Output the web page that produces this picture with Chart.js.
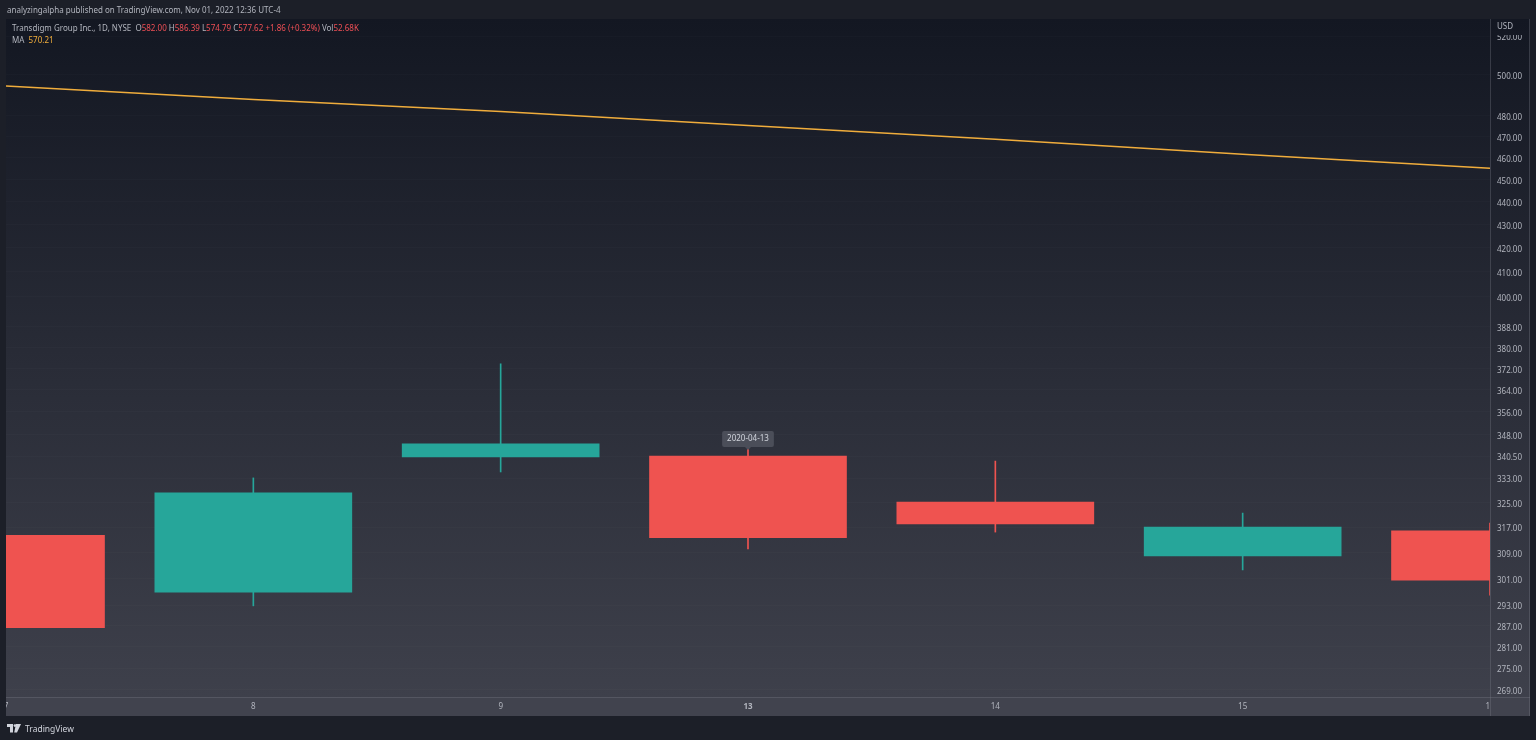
<!DOCTYPE html>
<html>
<head>
<meta charset="utf-8">
<script src="https://cdn.jsdelivr.net/npm/chart.js@4"></script>
<style>
  html, body { margin: 0; padding: 0; background: #1c1f28; overflow: hidden; }
  body { width: 1536px; height: 740px; position: relative; font-family: "Noto Sans", sans-serif; }
  #wrap { position: absolute; left: 0; top: 0; width: 1536px; height: 740px; }
  .txt { position: absolute; font-size: 8px; color: #b2b5be; white-space: nowrap; line-height: 10px; }
  .red { color: #ef4f55; }
  .ma { color: #f0ad3c; }
  .logo { position: absolute; left: 7px; top: 723px; display: flex; align-items: center; gap: 4px; color: #d1d4dc; font-size: 8.5px; }
</style>
</head>
<body>
<div id="wrap"><canvas id="chart" width="1536" height="740"></canvas></div>

<div class="txt" style="left:7px; top:5px;">analyzingalpha published on TradingView.com, Nov 01, 2022 12:36 UTC-4</div>
<div class="txt" style="left:12px; top:23px;">Transdigm Group Inc., 1D, NYSE&nbsp; O<span class="red">582.00</span> H<span class="red">586.39</span> L<span class="red">574.79</span> C<span class="red">577.62</span> <span class="red">+1.86 (+0.32%)</span> Vol<span class="red">52.68K</span></div>
<div class="txt" style="left:12px; top:35px;">MA&nbsp; <span class="ma">570.21</span></div>
<div class="logo">
  <svg width="14" height="9" viewBox="0 0 14 9"><path d="M0 0h6v8.5H3V3H0z M9 0h5L10 8.5H7.2z" fill="#d1d4dc"/><circle cx="8" cy="1.6" r="1.4" fill="#d1d4dc"/></svg>
  <span>TradingView</span>
</div>

<script>
// April 2020 daily candles, Transdigm (TDG)
const dayLabels = ['7', '8', '9', '13', '14', '15', '16'];
const openValues = [314.4, 296.9, 340.2, 340.5, 325.1, 307.9, 315.8];
const closeValues = [286.4, 328.1, 344.7, 313.6, 318.0, 317.0, 300.5];
const highValues = [314.4, 333.1, 373.7, 343.3, 338.8, 321.5, 318.3];
const lowValues = [286.4, 292.8, 335.1, 310.1, 315.4, 303.6, 296.0];
const maValues = [494.5, 487.8, 481.9, 475.2, 468.6, 461.6, 455.1];
const priceTicks = [269, 275, 281, 287, 293, 301, 309, 317, 325, 333, 340.5, 348, 356, 364, 372, 380, 388,
  400, 410, 420, 430, 440, 450, 460, 470, 480, 500, 520];
const hoverDate = '2020-04-13';

const UP = '#26a69a';
const DOWN = '#ef5350';
const candleColors = openValues.map((o, i) => (closeValues[i] >= o ? UP : DOWN));

const frame = {
  id: 'frame',
  beforeDraw(chart) {
    const { ctx, chartArea, scales } = chart;
    const right = scales.y.right;
    const g = ctx.createLinearGradient(0, chartArea.top, 0, chartArea.bottom);
    g.addColorStop(0, '#131722');
    g.addColorStop(1, '#3e404b');
    ctx.save();
    ctx.fillStyle = g;
    ctx.fillRect(chartArea.left, chartArea.top, right - chartArea.left, chartArea.bottom - chartArea.top);
    ctx.fillStyle = '#41434e';
    ctx.fillRect(chartArea.left, chartArea.bottom, right - chartArea.left, scales.x.bottom - chartArea.bottom);
    ctx.restore();
  },
  afterDraw(chart) {
    const { ctx, chartArea, scales } = chart;
    const x = scales.x, y = scales.y;
    ctx.save();
    // borders
    ctx.strokeStyle = 'rgba(120,123,134,0.35)';
    ctx.lineWidth = 1;
    ctx.beginPath();
    ctx.moveTo(chartArea.right + 0.5, chartArea.top);
    ctx.lineTo(chartArea.right + 0.5, x.bottom);
    ctx.moveTo(chartArea.left, chartArea.bottom + 0.5);
    ctx.lineTo(y.right, chartArea.bottom + 0.5);
    ctx.moveTo(y.right - 0.5, chartArea.top);
    ctx.lineTo(y.right - 0.5, x.bottom);
    ctx.stroke();

    // time labels, clipped to the pane
    ctx.beginPath();
    ctx.rect(chartArea.left, chartArea.bottom, chartArea.right - chartArea.left, x.bottom - chartArea.bottom);
    ctx.clip();
    ctx.fillStyle = '#b2b5be';
    ctx.textAlign = 'center';
    ctx.textBaseline = 'middle';
    dayLabels.forEach((d, i) => {
      ctx.font = (d === '13' ? 'bold ' : '') + '8px "Noto Sans"';
      ctx.fillText(d, x.getPixelForValue(i), (chartArea.bottom + x.bottom) / 2);
    });
    ctx.restore();

    // currency label at top of price axis
    ctx.save();
    const g = ctx.createLinearGradient(0, chartArea.top, 0, chartArea.bottom);
    g.addColorStop(0, '#131722');
    g.addColorStop(1, '#3e404b');
    ctx.fillStyle = g;
    ctx.fillRect(chartArea.right + 1, chartArea.top, y.right - chartArea.right - 2, 16);
    ctx.fillStyle = '#b2b5be';
    ctx.font = '8px "Noto Sans"';
    ctx.textBaseline = 'middle';
    ctx.fillText('USD', chartArea.right + 7, chartArea.top + 8);

    // hovered date label
    const hi = dayLabels.indexOf('13');
    const cx = x.getPixelForValue(hi);
    const top = y.getPixelForValue(highValues[hi]);
    const w = ctx.measureText(hoverDate).width + 10;
    const bh = 16, by = top - bh - 1;
    ctx.fillStyle = '#4b4e59';
    ctx.beginPath();
    ctx.roundRect(cx - w / 2, by, w, bh, 2);
    ctx.fill();
    ctx.beginPath();
    ctx.moveTo(cx - 3, by + bh);
    ctx.lineTo(cx + 3, by + bh);
    ctx.lineTo(cx, by + bh + 3);
    ctx.fill();
    ctx.fillStyle = '#d1d4dc';
    ctx.textAlign = 'center';
    ctx.fillText(hoverDate, cx, by + bh / 2);
    ctx.restore();
  }
};

new Chart(document.getElementById('chart'), {
  data: {
    labels: dayLabels,
    datasets: [
      {
        type: 'bar',
        label: 'Wick',
        data: lowValues.map((l, i) => [l, highValues[i]]),
        backgroundColor: candleColors,
        barThickness: 1,
        grouped: false,
        clip: 0,
        order: 2
      },
      {
        type: 'bar',
        label: 'Body',
        data: openValues.map((o, i) => [o, closeValues[i]]),
        backgroundColor: candleColors,
        barThickness: 197,
        grouped: false,
        clip: 0,
        order: 1
      },
      {
        type: 'line',
        label: 'MA',
        data: maValues,
        borderColor: '#f0ad3c',
        borderWidth: 1.5,
        pointRadius: 0,
        tension: 0,
        clip: 0,
        order: 0
      }
    ]
  },
  options: {
    responsive: false,
    animation: false,
    layout: { padding: { top: 19, left: 6, right: 6, bottom: 24 } },
    plugins: { legend: { display: false }, tooltip: { enabled: false } },
    scales: {
      x: {
        type: 'category',
        offset: false,
        grid: { display: false },
        border: { display: false },
        ticks: { display: false },
        afterFit(scale) { scale.height = 19; }
      },
      y: {
        type: 'logarithmic',
        position: 'right',
        min: 267.1,
        max: 529.0,
        grid: { color: 'rgba(255,255,255,0.015)', drawTicks: false },
        border: { display: false },
        afterBuildTicks(scale) { scale.ticks = priceTicks.map(v => ({ value: v })); },
        afterFit(scale) { scale.width = 40; },
        ticks: {
          padding: 7,
          labelOffset: 2,
          color: '#b2b5be',
          font: { family: 'Noto Sans', size: 8 },
          callback: v => Number(v).toFixed(2)
        }
      }
    }
  },
  plugins: [frame]
});
</script>
</body>
</html>
